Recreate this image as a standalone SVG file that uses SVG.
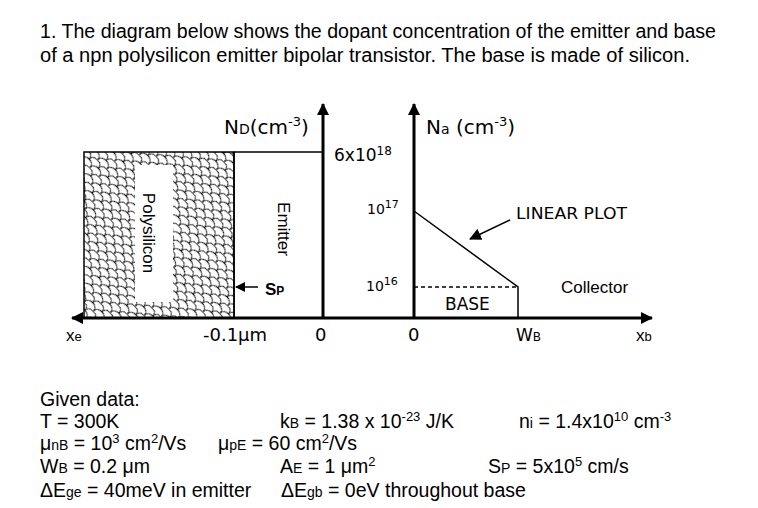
<svg xmlns="http://www.w3.org/2000/svg" width="758" height="508" viewBox="0 0 758 508">
<style>
.t{font-family:"Liberation Sans",Arial,sans-serif;fill:#000}
.v{font-family:"DejaVu Sans",Verdana,sans-serif;fill:#000}
.ln{stroke:#000;stroke-width:1.5;fill:none}
.ax{stroke:#000;stroke-width:3;fill:none}
</style>
<defs>
<pattern id="scale" width="13" height="11" patternUnits="userSpaceOnUse" patternTransform="rotate(45)">
<path d="M0 11 Q0 5.5 6.5 5.5 Q13 5.5 13 11 M-6.5 5.5 Q-6.5 0 0 0 Q6.5 0 6.5 5.5 Q6.5 0 13 0 Q19.5 0 19.5 5.5" stroke="#000" stroke-width="1" fill="none"/>
</pattern>
<marker id="ah" markerWidth="10" markerHeight="10" refX="9" refY="5" orient="auto" markerUnits="userSpaceOnUse">
<path d="M0 0 L10 5 L0 10 Z" fill="#000"/>
</marker>
<marker id="ahs" markerWidth="12" markerHeight="12" refX="11" refY="6" orient="auto" markerUnits="userSpaceOnUse">
<path d="M0 0 L12 6 L0 12 Z" fill="#000"/>
</marker>
</defs>
<rect width="758" height="508" fill="#fff"/>
<text class="t" x="40" y="38" font-size="20" textLength="676" lengthAdjust="spacingAndGlyphs">1. The diagram below shows the dopant concentration of the emitter and base</text>
<text class="t" x="40" y="62" font-size="20" textLength="650" lengthAdjust="spacingAndGlyphs">of a npn polysilicon emitter bipolar transistor. The base is made of silicon.</text>

<g id="polysilicon">
<rect x="84" y="152" width="150" height="166" fill="url(#scale)" stroke="#000" stroke-width="1.5"/>
<rect x="135" y="165" width="38" height="137" fill="#fff"/>
<text class="t" transform="translate(143 233) rotate(90)" text-anchor="middle" font-size="17">Polysilicon</text>
</g>
<g id="emitter">
<path class="ln" d="M234 152 H323 M234 152 V318"/>
<text class="t" transform="translate(278 229) rotate(90)" text-anchor="middle" font-size="17">Emitter</text>
</g>
<g id="sp">
<line class="ln" x1="258" y1="287" x2="236" y2="287" marker-end="url(#ah)"/>
<text class="t" x="265" y="295" font-weight="bold" font-size="17">S<tspan font-size="12">P</tspan></text>
</g>
<g id="base">
<path class="ln" d="M414 211 L518 287 V318"/>
<line class="ln" x1="414" y1="287" x2="518" y2="287" stroke-dasharray="4 3"/>
<text class="v" x="445" y="310" font-size="17">BASE</text>
</g>
<g id="connectors">
<line class="ax" x1="323" y1="318" x2="72" y2="318" marker-end="url(#ahs)"/>
<line class="ax" x1="323" y1="318" x2="652" y2="318" marker-end="url(#ahs)"/>
<line class="ax" x1="323" y1="319" x2="323" y2="104" marker-end="url(#ahs)"/>
<line class="ax" x1="414" y1="319" x2="414" y2="104" marker-end="url(#ahs)"/>
<line class="ln" x1="510" y1="220" x2="470" y2="239" marker-end="url(#ahs)"/>
</g>
<g id="labels">
<text class="v" x="224" y="134" font-size="20">N<tspan font-size="14">D</tspan>(cm<tspan font-size="13" dy="-8">-3</tspan><tspan dy="8">)</tspan></text>
<text class="v" x="426" y="134" font-size="20">N<tspan font-size="14">a</tspan> (cm<tspan font-size="13" dy="-8">-3</tspan><tspan dy="8">)</tspan></text>
<text class="v" x="334" y="161" font-size="17">6x10<tspan font-size="12" dy="-6">18</tspan></text>
<text class="v" x="367" y="214" font-size="14">10<tspan font-size="11" dy="-6">17</tspan></text>
<text class="v" x="366" y="291" font-size="14">10<tspan font-size="11" dy="-6">16</tspan></text>
<text class="v" x="516" y="219" font-size="16" textLength="111" lengthAdjust="spacingAndGlyphs">LINEAR PLOT</text>
<text class="t" x="561" y="293" font-size="17">Collector</text>
<text class="t" x="66" y="341" font-size="17">x<tspan font-size="13">e</tspan></text>
<text class="v" x="203" y="341" font-size="18">-0.1μm</text>
<text class="v" x="315" y="341" font-size="18">0</text>
<text class="v" x="408" y="341" font-size="18">0</text>
<text class="v" x="516" y="341" font-size="17">W<tspan font-size="12">B</tspan></text>
<text class="t" x="636" y="341" font-size="17">x<tspan font-size="13">b</tspan></text>
</g>
<g id="given" font-size="19.5">
<text class="t" x="40" y="406">Given data:</text>
<text class="t" x="40" y="428">T = 300K</text>
<text class="t" x="280" y="428">k<tspan font-size="14">B</tspan> = 1.38 x 10<tspan font-size="13" dy="-7">-23</tspan><tspan dy="7"> J/K</tspan></text>
<text class="t" x="519" y="428">n<tspan font-size="14">i</tspan> = 1.4x10<tspan font-size="13" dy="-7">10</tspan><tspan dy="7"> cm</tspan><tspan font-size="13" dy="-7">-3</tspan></text>
<text class="t" x="40" y="450">μ<tspan font-size="14">nB</tspan> = 10<tspan font-size="13" dy="-7">3</tspan><tspan dy="7"> cm</tspan><tspan font-size="13" dy="-7">2</tspan><tspan dy="7">/Vs</tspan></text>
<text class="t" x="218" y="450">μ<tspan font-size="14">pE</tspan> = 60 cm<tspan font-size="13" dy="-7">2</tspan><tspan dy="7">/Vs</tspan></text>
<text class="t" x="40" y="473">W<tspan font-size="14">B</tspan> = 0.2 μm</text>
<text class="t" x="280" y="473">A<tspan font-size="14">E</tspan> = 1 μm<tspan font-size="13" dy="-7">2</tspan></text>
<text class="t" x="488" y="473">S<tspan font-size="14">P</tspan> = 5x10<tspan font-size="13" dy="-7">5</tspan><tspan dy="7"> cm/s</tspan></text>
<text class="t" x="40" y="497">ΔE<tspan font-size="14">ge</tspan> = 40meV in emitter</text>
<text class="t" x="281" y="497">ΔE<tspan font-size="14">gb</tspan> = 0eV throughout base</text>
</g>
</svg>
